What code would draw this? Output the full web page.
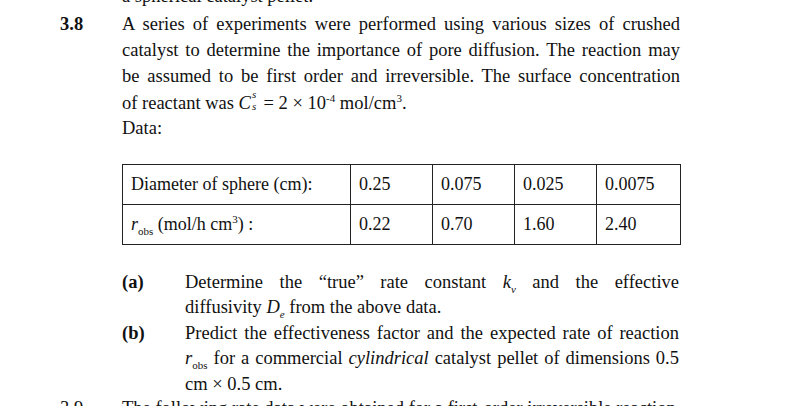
<!DOCTYPE html>
<html><head><meta charset="utf-8">
<script src="https://cdn.jsdelivr.net/npm/chart.js@4"></script>
<style>
body{margin:0;width:796px;height:406px;overflow:hidden;background:#fff;font-family:"Liberation Serif","DejaVu Serif",serif;font-size:18.5px;color:#111;position:relative}
.a{position:absolute;white-space:nowrap}
.j{position:absolute;left:122px;width:558px;text-align:justify;text-align-last:justify;white-space:nowrap}
table{position:absolute;left:122px;top:164px;border-collapse:collapse}
td{border:1px solid #222;height:39px;padding:0 0 0 8px;font-size:18px}
sub,sup{font-size:11px}
.ss{display:inline-block;position:relative;width:8px;height:10px}
.ss span{position:absolute;left:1px;font-size:11px;font-style:italic;line-height:1}
</style></head><body>
<div class="a" style="left:122px;top:-14px">a spherical catalyst pellet.</div>
<div class="a" style="left:60px;top:14px;font-weight:bold">3.8</div>
<div class="j" style="top:14px">A series of experiments were performed using various sizes of crushed</div>
<div class="j" style="top:40px">catalyst to determine the importance of pore diffusion. The reaction may</div>
<div class="j" style="top:66px">be assumed to be first order and irreversible. The surface concentration</div>
<div class="a" style="left:122px;top:92px">of reactant was <i>C</i><span class="ss"><span style="top:-10px">s</span><span style="top:2px">s</span></span> = 2 × 10<sup>-4</sup> mol/cm<sup>3</sup>.</div>
<div class="a" style="left:122px;top:118px">Data:</div>
<table id="t"></table>
<div class="a" style="left:122px;top:272px;font-weight:bold">(a)</div>
<div class="j" style="left:185px;width:494px;top:272px">Determine the “true” rate constant <i>k<sub>v</sub></i> and the effective</div>
<div class="a" style="left:185px;top:297px">diffusivity <i>D<sub>e</sub></i> from the above data.</div>
<div class="a" style="left:122px;top:323px;font-weight:bold">(b)</div>
<div class="j" style="left:185px;width:494px;top:323px">Predict the effectiveness factor and the expected rate of reaction</div>
<div class="j" style="left:185px;width:494px;top:348px"><i>r</i><sub>obs</sub> for a commercial <i>cylindrical</i> catalyst pellet of dimensions 0.5</div>
<div class="a" style="left:185px;top:374px">cm × 0.5 cm.</div>
<div class="a" style="left:60px;top:398px">3.9</div>
<div class="a" style="left:122px;top:398px">The following rate data were obtained for a first-order irreversible reaction</div>
<script>
const diameters=["0.25","0.075","0.025","0.0075"];
const rates=["0.22","0.70","1.60","2.40"];
const widths=[228,82,82,82,84];
const t=document.getElementById('t');
function row(label,vals){const tr=document.createElement('tr');
 [label,...vals].forEach((v,i)=>{const td=document.createElement('td');td.innerHTML=v;td.style.width=(widths[i]-9)+'px';tr.appendChild(td);});t.appendChild(tr);}
row("Diameter of sphere (cm):",diameters);
row("<i>r</i><sub>obs</sub> (mol/h cm<sup>3</sup>) :",rates);
</script>
</body></html>
